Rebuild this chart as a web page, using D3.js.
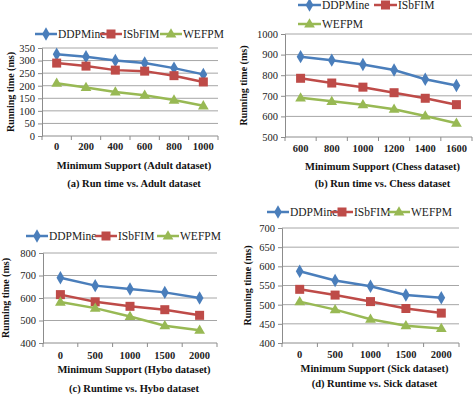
<!DOCTYPE html>
<html>
<head>
<meta charset="utf-8">
<script src="https://cdn.jsdelivr.net/npm/d3@7"></script>
<style>
  body { margin: 0; background: #fff; }
  svg text { font-family: "Liberation Serif", "Times New Roman", serif; }
</style>
</head>
<body>
<div id="container"></div>
<script>
// Chart data
const seriesNames = ["DDPMine", "ISbFIM", "WEFPM"];
const seriesColors = ["#4a7ebb", "#be4b48", "#98b954"];

const adultSupport = [0, 200, 400, 600, 800, 1000];
const adultDDPMine = [325, 315, 300, 290, 270, 245];
const adultISbFIM = [290, 278, 262, 258, 240, 215];
const adultWEFPM = [210, 193, 175, 162, 143, 120];

const chessSupport = [600, 800, 1000, 1200, 1400, 1600];
const chessDDPMine = [890, 873, 852, 825, 780, 750];
const chessISbFIM = [785, 762, 742, 715, 688, 657];
const chessWEFPM = [690, 673, 657, 635, 602, 567];

const hyboSupport = [0, 500, 1000, 1500, 2000];
const hyboDDPMine = [690, 655, 640, 625, 600];
const hyboISbFIM = [615, 583, 563, 548, 523];
const hyboWEFPM = [582, 555, 518, 477, 457];

const sickSupport = [0, 500, 1000, 1500, 2000];
const sickDDPMine = [587, 563, 548, 525, 518];
const sickISbFIM = [540, 525, 508, 490, 478];
const sickWEFPM = [508, 487, 462, 445, 438];

const width = 474;
const height = 395;
const serif = "'Liberation Serif', 'Times New Roman', serif";

// panel layout (plot area in page pixels)
const panels = [
    {
        cats: adultSupport, values: [adultDDPMine, adultISbFIM, adultWEFPM],
        yDomain: [0, 350], yStep: 50,
        x0: 42, x1: 218, y0: 48, y1: 136,
        legend: [[35, 34], [100, 34], [160, 34]], legendLen: 22,
        yLabelX: 10, tickY: 150, xLabelY: 169, captionY: 187,
        xLabel: "Minimum Support (Adult dataset)",
        caption: "(a) Run time vs. Adult dataset"
    },
    {
        cats: chessSupport, values: [chessDDPMine, chessISbFIM, chessWEFPM],
        yDomain: [500, 1000], yStep: 100,
        x0: 285, x1: 472, y0: 34, y1: 137,
        legend: [[298, 5], [374, 5], [298, 24]], legendLen: 23,
        yLabelX: 243, tickY: 152, xLabelY: 170, captionY: 187,
        xLabel: "Minimum Support (Chess dataset)",
        caption: "(b) Run time vs. Chess dataset"
    },
    {
        cats: hyboSupport, values: [hyboDDPMine, hyboISbFIM, hyboWEFPM],
        yDomain: [400, 800], yStep: 100,
        x0: 43, x1: 217, y0: 253, y1: 343,
        legend: [[26, 236], [95, 236], [157, 236]], legendLen: 22,
        yLabelX: 5, tickY: 359, xLabelY: 373, captionY: 392,
        xLabel: "Minimum Support (Hybo dataset)",
        caption: "(c) Runtime vs. Hybo dataset"
    },
    {
        cats: sickSupport, values: [sickDDPMine, sickISbFIM, sickWEFPM],
        yDomain: [400, 700], yStep: 50,
        x0: 282, x1: 459, y0: 228, y1: 343,
        legend: [[267, 212], [331, 212], [388, 212]], legendLen: 22,
        yLabelX: 247, tickY: 358, xLabelY: 372, captionY: 387,
        xLabel: "Minimum Support (Sick dataset)",
        caption: "(d) Runtime vs. Sick dataset"
    }
];

const svg = d3.select("#container").append("svg")
    .attr("width", width)
    .attr("height", height)
    .attr("font-family", serif)
    .style("display", "block");

// marker drawing for each series
function drawMarker(g, i, cx, cy) {
    if (i === 0) {
        g.append("path")
            .attr("d", d3.symbol(d3.symbolDiamond, 52)())
            .attr("transform", `translate(${cx},${cy})`)
            .attr("fill", seriesColors[i]);
    } else if (i === 1) {
        g.append("rect")
            .attr("x", cx - 4.5).attr("y", cy - 4.5)
            .attr("width", 9).attr("height", 9)
            .attr("fill", seriesColors[i]);
    } else {
        g.append("path")
            .attr("d", d3.symbol(d3.symbolTriangle, 50)())
            .attr("transform", `translate(${cx},${cy + 0.5})`)
            .attr("fill", seriesColors[i]);
    }
}

function drawPanel(p) {
    const g = svg.append("g");

    const x = d3.scaleBand().domain(p.cats).range([p.x0, p.x1]).padding(0);
    const y = d3.scaleLinear().domain(p.yDomain).range([p.y1, p.y0]);
    const yTicks = d3.range(p.yDomain[0], p.yDomain[1] + 1, p.yStep);

    // gridlines
    g.append("g")
        .selectAll("line")
        .data(yTicks.slice(1))
        .join("line")
        .attr("x1", p.x0).attr("x2", p.x1)
        .attr("y1", d => y(d)).attr("y2", d => y(d))
        .attr("stroke", "#a6a6a6")
        .attr("stroke-width", 1);

    // y axis
    const yAxis = g.append("g")
        .attr("transform", `translate(${p.x0},0)`)
        .call(d3.axisLeft(y).tickValues(yTicks).tickFormat(d3.format("d")).tickSize(4).tickPadding(3));
    yAxis.attr("font-family", serif);
    yAxis.select(".domain").attr("stroke", "#8c8c8c");
    yAxis.selectAll(".tick line").attr("stroke", "#8c8c8c");
    yAxis.selectAll("text")
        .attr("font-family", serif)
        .attr("font-size", 10.5)
        .attr("fill", "#222");

    // x axis (category axis: ticks at band boundaries)
    g.append("line")
        .attr("x1", p.x0).attr("x2", p.x1)
        .attr("y1", p.y1).attr("y2", p.y1)
        .attr("stroke", "#8c8c8c");
    const bounds = p.cats.map(c => x(c)).concat([p.x1]);
    g.append("g")
        .selectAll("line")
        .data(bounds)
        .join("line")
        .attr("x1", d => d).attr("x2", d => d)
        .attr("y1", p.y1).attr("y2", p.y1 + 4)
        .attr("stroke", "#8c8c8c");
    g.append("g")
        .selectAll("text")
        .data(p.cats)
        .join("text")
        .attr("x", d => x(d) + x.bandwidth() / 2)
        .attr("y", p.tickY)
        .attr("text-anchor", "middle")
        .attr("font-family", serif)
        .attr("font-size", 10.5)
        .attr("font-weight", "bold")
        .attr("fill", "#222")
        .text(d => d);

    // series lines and markers
    const line = d3.line()
        .x((d, j) => x(p.cats[j]) + x.bandwidth() / 2)
        .y(d => y(d));
    p.values.forEach((vals, i) => {
        g.append("path")
            .attr("d", line(vals))
            .attr("fill", "none")
            .attr("stroke", seriesColors[i])
            .attr("stroke-width", 2.5);
        const mg = g.append("g");
        vals.forEach((v, j) => drawMarker(mg, i, x(p.cats[j]) + x.bandwidth() / 2, y(v)));
    });

    // legend
    p.legend.forEach(([lx, ly], i) => {
        g.append("line")
            .attr("x1", lx).attr("x2", lx + p.legendLen)
            .attr("y1", ly).attr("y2", ly)
            .attr("stroke", seriesColors[i])
            .attr("stroke-width", 2.5);
        drawMarker(g, i, lx + p.legendLen / 2, ly);
        g.append("text")
            .attr("x", lx + p.legendLen + 1)
            .attr("y", ly)
            .attr("dy", "0.35em")
            .attr("font-family", serif)
            .attr("font-size", 11.5)
            .attr("fill", "#222")
            .text(seriesNames[i]);
    });

    // y label
    g.append("text")
        .attr("transform", `translate(${p.yLabelX},${(p.y0 + p.y1) / 2}) rotate(-90)`)
        .attr("text-anchor", "middle")
        .attr("dy", "0.35em")
        .attr("font-family", serif)
        .attr("font-size", 10)
        .attr("font-weight", "bold")
        .attr("fill", "#111")
        .text("Running time (ms)");

    // x label and caption
    g.append("text")
        .attr("x", (p.x0 + p.x1) / 2 + 4)
        .attr("y", p.xLabelY)
        .attr("text-anchor", "middle")
        .attr("font-family", serif)
        .attr("font-size", 10.5)
        .attr("font-weight", "bold")
        .attr("fill", "#111")
        .text(p.xLabel);
    g.append("text")
        .attr("x", (p.x0 + p.x1) / 2 + 4)
        .attr("y", p.captionY)
        .attr("text-anchor", "middle")
        .attr("font-family", serif)
        .attr("font-size", 10.5)
        .attr("font-weight", "bold")
        .attr("fill", "#111")
        .text(p.caption);
}

panels.forEach(drawPanel);
</script>
</body>
</html>
